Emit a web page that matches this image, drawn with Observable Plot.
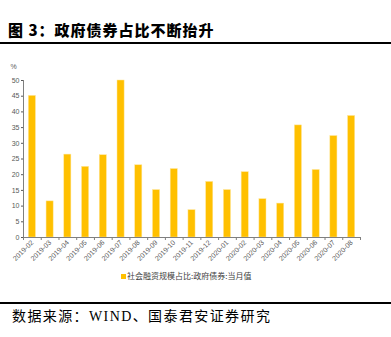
<!DOCTYPE html>
<html>
<head>
<meta charset="utf-8">
<script src="https://cdn.jsdelivr.net/npm/d3@7"></script>
<script src="https://cdn.jsdelivr.net/npm/@observablehq/plot@0.6"></script>
<style>
  html, body { margin: 0; padding: 0; background: #fff; }
  body { width: 391px; height: 337px; position: relative; overflow: hidden; }
  #title { position: absolute; left: 8px; top: 22px; font-family: "Noto Sans CJK SC", sans-serif; font-weight: 900; font-size: 15px; line-height: 16px; letter-spacing: 1px; color: #000; white-space: nowrap; }
  #topline { position: absolute; left: 0; top: 42px; width: 391px; height: 2px; background: #000; }
  #chart { position: absolute; left: 0; top: 55px; }
  #legend { position: absolute; left: 121px; top: 271px; font-family: "Noto Sans CJK SC", sans-serif; font-size: 8px; line-height: 10px; color: #404040; white-space: nowrap; }
  #legend .sw { display: inline-block; width: 5px; height: 5px; background: #FFC000; margin-right: 1px; vertical-align: 0px; }
  #botline { position: absolute; left: 0; top: 302px; width: 391px; height: 2px; background: #000; }
  #source { position: absolute; left: 12px; top: 309px; font-family: "Liberation Serif", "Noto Sans CJK SC", serif; font-size: 14px; line-height: 16px; letter-spacing: 1.4px; color: #000; white-space: nowrap; }
</style>
</head>
<body>
<div id="title">图 3：政府债券占比不断抬升</div>
<div id="topline"></div>
<div id="chart"></div>
<div id="legend"><span class="sw"></span>社会融资规模占比:政府债券:当月值</div>
<div id="botline"></div>
<div id="source">数据来源：WIND、国泰君安证券研究</div>
<script>
const months = ["2019-02","2019-03","2019-04","2019-05","2019-06","2019-07","2019-08","2019-09","2019-10","2019-11","2019-12","2020-01","2020-02","2020-03","2020-04","2020-05","2020-06","2020-07","2020-08"];
const values = [45.1, 11.5, 26.4, 22.5, 26.2, 50.0, 23.0, 15.1, 21.8, 8.7, 17.7, 15.1, 20.8, 12.2, 10.8, 35.7, 21.5, 32.3, 38.7];
const yTicks = [0, 5, 10, 15, 20, 25, 30, 35, 40, 45, 50];
const unitLabel = "%";
const seriesName = "社会融资规模占比:政府债券:当月值";

const data = months.map((m, i) => ({month: m, value: values[i]}));

const W = 391, mL = 23, mR = 31;
const step = (W - mL - mR) / months.length;

const chart = Plot.plot({
  width: W,
  height: 217,
  marginLeft: mL,
  marginRight: mR,
  marginTop: 25,
  marginBottom: 35,
  style: { fontFamily: "Liberation Sans, Arial, sans-serif", fontSize: "7px", color: "#595959", background: "transparent" },
  x: { domain: months, paddingInner: 0.6, paddingOuter: 0.3, round: false, label: null, tickSize: 0, tickRotate: -45, tickPadding: 4 },
  y: { domain: [0, 50], ticks: yTicks, label: null, tickSize: 2, tickPadding: 2 },
  marks: [
    Plot.barY(data, { x: "month", y: "value", fill: "#FFC000", stroke: "#FFE699", strokeWidth: 0.5 }),
    Plot.ruleX(months.slice(0, 1), { x: d => d, y1: 0, y2: 50, dx: -step / 2, stroke: "#7f7f7f" }),
    Plot.ruleY([0], { stroke: "#7f7f7f" }),
    Plot.ruleX(months, { x: d => d, y1: 0, y2: 0, insetBottom: -3, dx: -step / 2, stroke: "#7f7f7f" }),
    Plot.ruleX(months.slice(-1), { x: d => d, y1: 0, y2: 0, insetBottom: -3, dx: step / 2, stroke: "#7f7f7f" }),
    Plot.text([unitLabel], { frameAnchor: "top-left", text: d => d, dx: -13, dy: -16, fill: "#595959", fontSize: 7 })
  ]
});
document.getElementById("chart").appendChild(chart);
</script>
</body>
</html>
